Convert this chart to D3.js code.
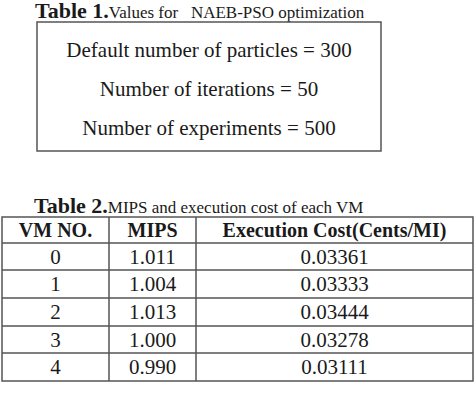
<!DOCTYPE html>
<html><head><meta charset="utf-8">
<script src="https://cdn.jsdelivr.net/npm/d3@7"></script>
<style>body{margin:0;background:#fff}svg{display:block}text{font-family:"Times New Roman","Liberation Serif","DejaVu Serif",serif;fill:#1a1a1a}</style>
</head><body>
<script>
const params = ["Default number of particles = 300","Number of iterations = 50","Number of experiments = 500"];
const headers = ["VM NO.","MIPS","Execution Cost(Cents/MI)"];
const vmNo = ["0","1","2","3","4"];
const mips = ["1.011","1.004","1.013","1.000","0.990"];
const cost = ["0.03361","0.03333","0.03444","0.03278","0.03111"];

const svg = d3.select("body").append("svg").attr("width",474).attr("height",410);
const stroke = "#555";

// fit helper: stretch text to a target width
function fit(sel, w){ sel.each(function(){ const l=this.getComputedTextLength(); if(l>0) this.setAttribute("textLength", w); this.setAttribute("lengthAdjust","spacingAndGlyphs"); }); }

// Table 1
const t1 = svg.append("text").attr("x",35).attr("y",18);
t1.append("tspan").attr("font-weight","bold").attr("font-size",22).text("Table 1.");
t1.append("tspan").attr("font-size",17).text("Values for \u00a0 NAEB-PSO optimization");
svg.append("rect").attr("x",37).attr("y",22).attr("width",344).attr("height",129)
  .attr("fill","none").attr("stroke",stroke).attr("stroke-width",1.5);
const y1 = d3.scalePoint().domain(params).range([57,135]);
svg.selectAll(".p").data(params).join("text").attr("class","p").attr("x",209).attr("y",d=>y1(d))
  .attr("text-anchor","middle").attr("font-size",21).text(d=>d);

// Table 2
const t2 = svg.append("text").attr("x",34).attr("y",213);
t2.append("tspan").attr("font-weight","bold").attr("font-size",22).text("Table 2.");
t2.append("tspan").attr("font-size",17).text("MIPS and execution cost of each VM");

const colX = [2,109,196,473];
const rowY = [217,243,270,298,326,353,381];
const rows = vmNo.map((v,i)=>[v,mips[i],cost[i]]);
const g = svg.append("g");
g.append("rect").attr("x",colX[0]).attr("y",rowY[0]).attr("width",colX[3]-colX[0]).attr("height",rowY[6]-rowY[0])
  .attr("fill","none").attr("stroke",stroke).attr("stroke-width",1.5);
g.selectAll(".v").data(colX.slice(1,3)).join("line").attr("x1",d=>d).attr("x2",d=>d)
  .attr("y1",rowY[0]).attr("y2",rowY[6]).attr("stroke",stroke).attr("stroke-width",1.5);
g.selectAll(".h").data(rowY.slice(1,6)).join("line").attr("y1",d=>d).attr("y2",d=>d)
  .attr("x1",colX[0]).attr("x2",colX[3]).attr("stroke",stroke).attr("stroke-width",1.5);
const cx = i => (colX[i]+colX[i+1])/2;
g.selectAll(".hd").data(headers).join("text").attr("x",(d,i)=>cx(i)).attr("y",rowY[0]+20)
  .attr("text-anchor","middle").attr("font-weight","bold").attr("font-size",20).text(d=>d);
rows.forEach((r,ri)=>{
  g.selectAll(".r"+ri).data(r).join("text").attr("x",(d,i)=>cx(i)).attr("y",rowY[ri+1]+21)
   .attr("text-anchor","middle").attr("font-size",21).text(d=>d);
});
</script>
</body></html>
